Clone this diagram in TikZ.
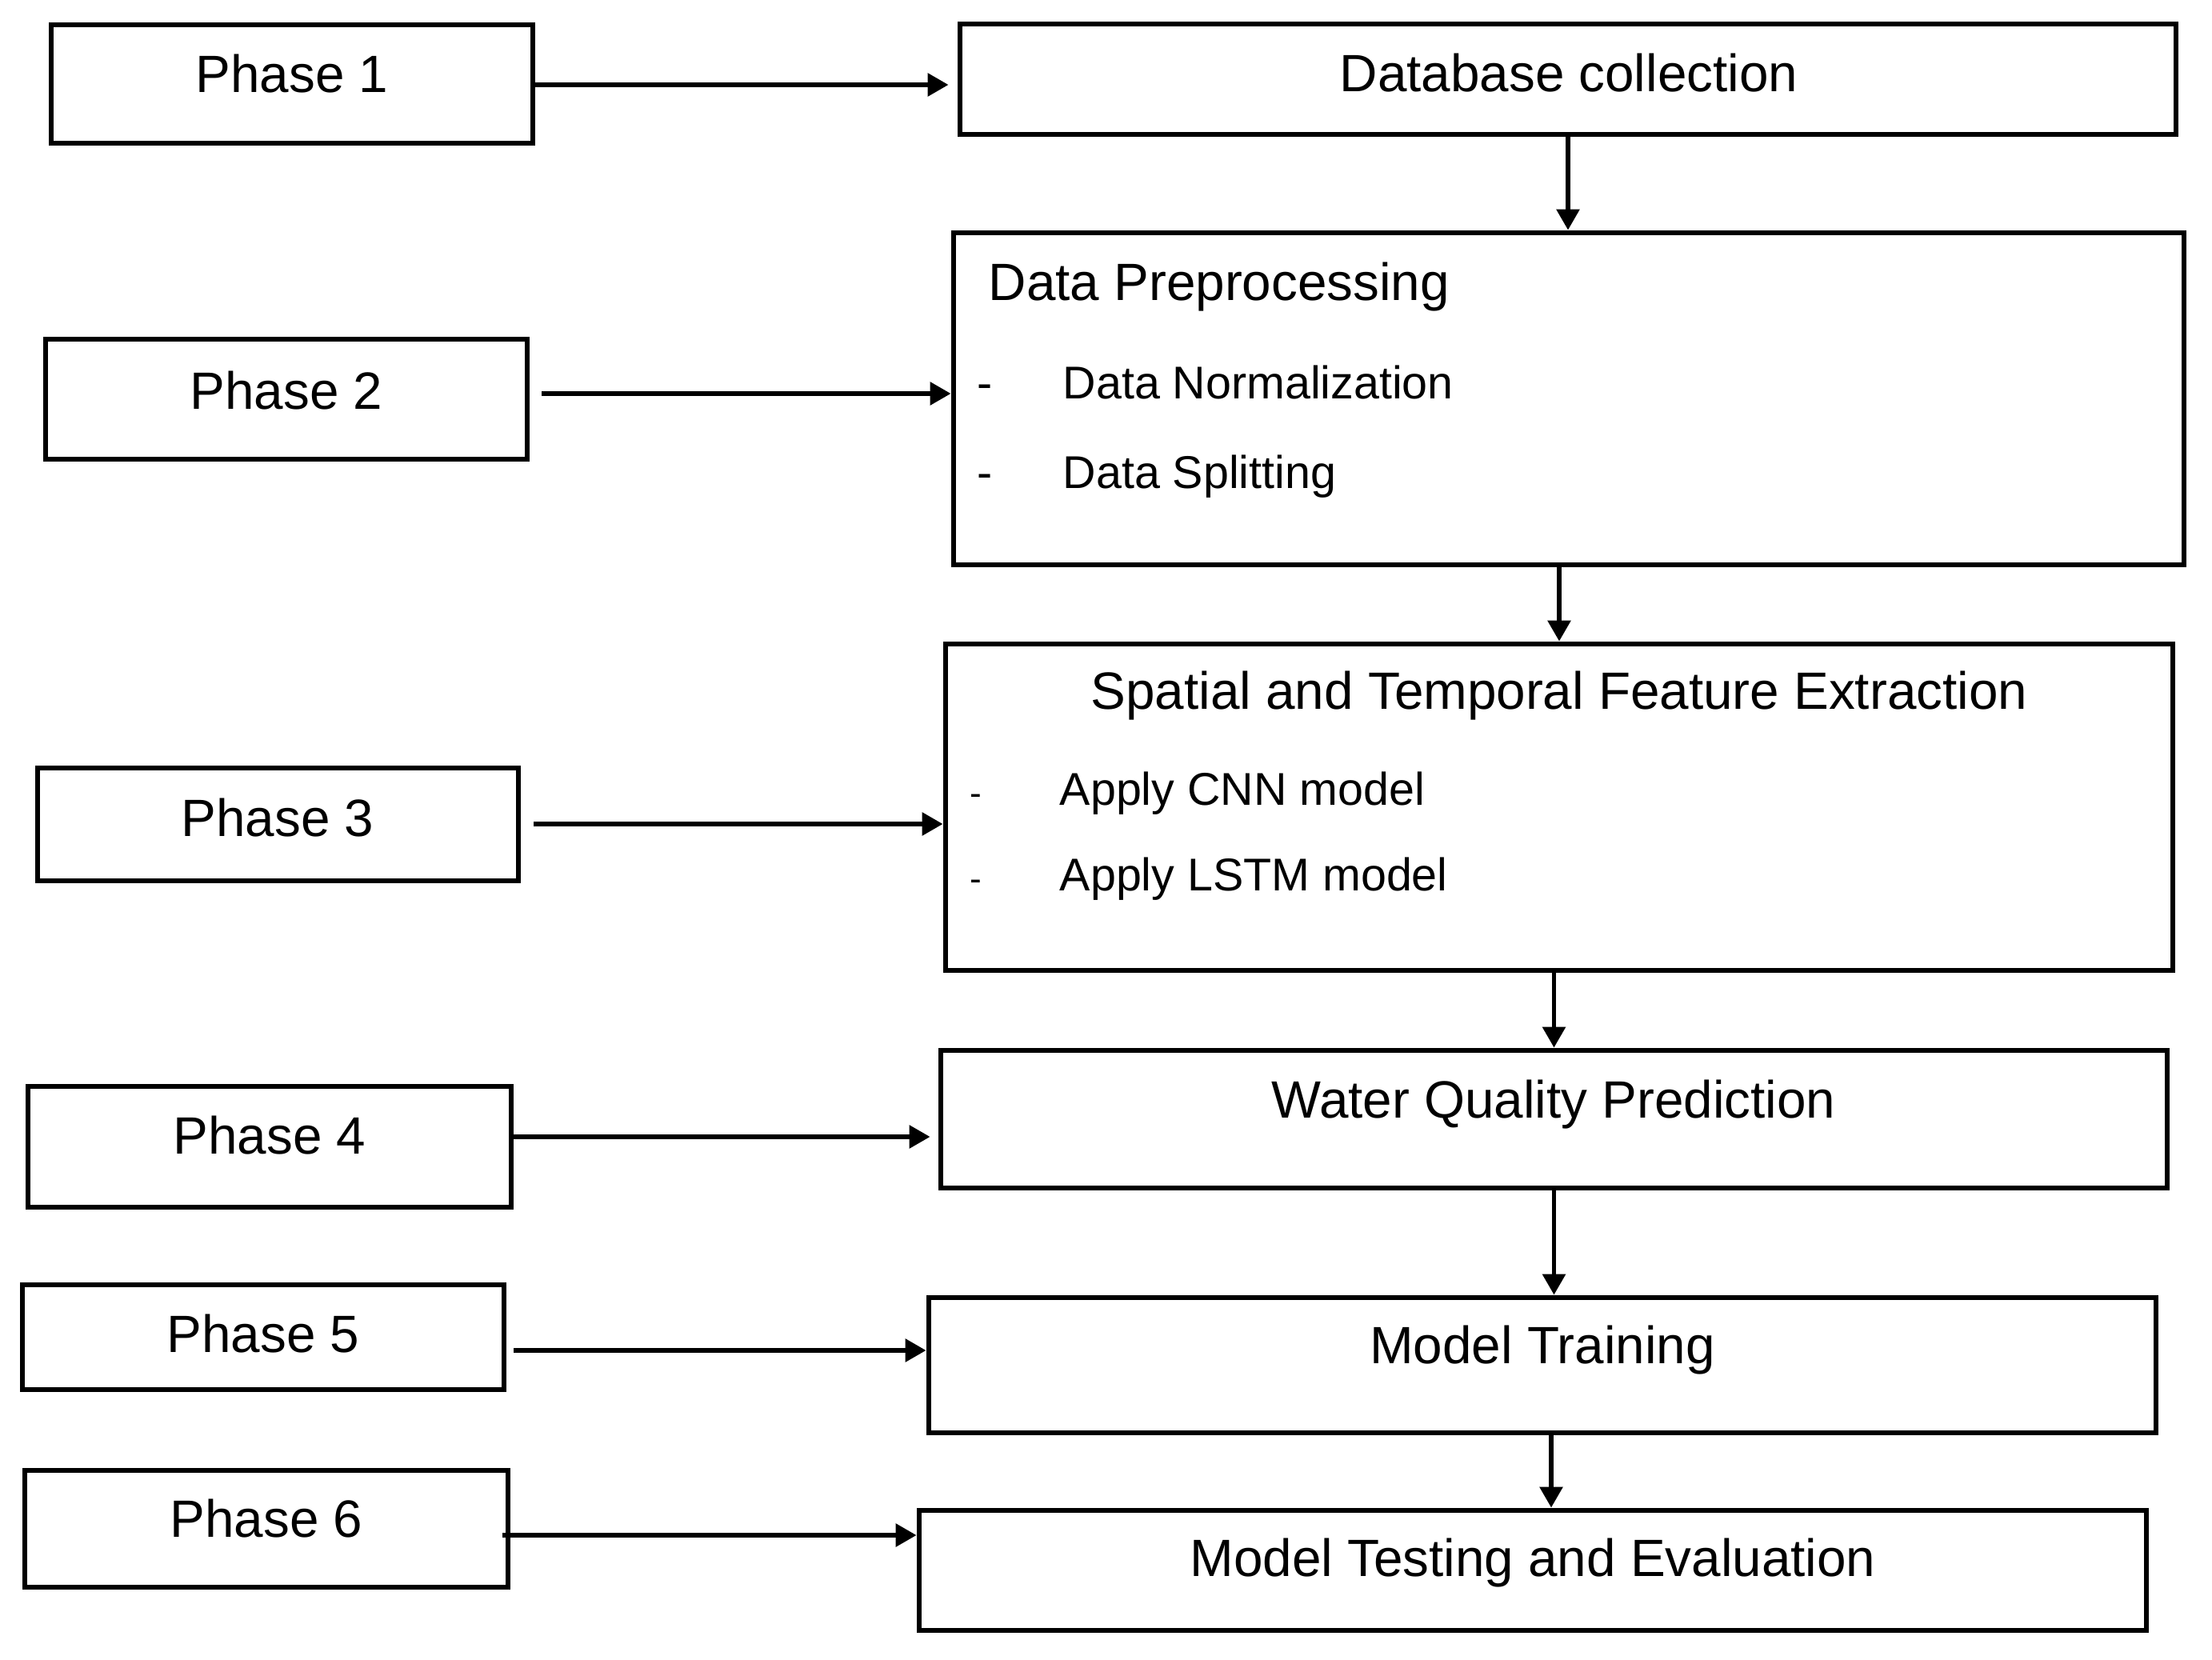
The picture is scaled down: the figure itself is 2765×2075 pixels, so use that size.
\documentclass[tikz,border=0pt]{standalone}
\usepackage{fontspec}
\setmainfont{Liberation Sans}
\usetikzlibrary{arrows.meta,fit}
\begin{document}
\begin{tikzpicture}[x=0.25pt,y=-0.25pt,
  box/.style={draw=black,line width=1.7pt,inner sep=0pt,fill=none},
  arr/.style={draw=black,line width=1.45pt,-{Triangle[length=6.5pt,width=7pt]}},
  big/.style={inner sep=0pt,font=\fontsize{16.4}{19}\selectfont},
  small/.style={inner sep=0pt,font=\fontsize{14.35}{17}\selectfont},
  tiny/.style={inner sep=0pt,font=\fontsize{11}{13}\selectfont}]
\useasboundingbox (0,0) rectangle (2765,2075);
% boxes
\node[box,fit={(64,31) (666,179)}] (p1) {};
\node[box,fit={(1200,30) (2720,168)}] (db) {};
\node[box,fit={(57,424) (659,574)}] (p2) {};
\node[box,fit={(1192,291) (2730,706)}] (dp) {};
\node[box,fit={(47,960) (648,1101)}] (p3) {};
\node[box,fit={(1182,805) (2716,1213)}] (sp) {};
\node[box,fit={(35,1358) (639,1509)}] (p4) {};
\node[box,fit={(1176,1313) (2709,1485)}] (wq) {};
\node[box,fit={(28,1606) (630,1737)}] (p5) {};
\node[box,fit={(1161,1622) (2695,1791)}] (mt) {};
\node[box,fit={(31,1838) (635,1984)}] (p6) {};
\node[box,fit={(1149,1888) (2683,2038)}] (mte) {};
% texts
\node[big,anchor=base] (t1) at (365,116) {Phase 1};
\node[big,anchor=base] (t2) at (358,512) {Phase 2};
\node[big,anchor=base] (t3) at (347,1045) {Phase 3};
\node[big,anchor=base] (t4) at (337,1442) {Phase 4};
\node[big,anchor=base] (t5) at (329,1690) {Phase 5};
\node[big,anchor=base] (t6) at (333,1921) {Phase 6};
\node[big,anchor=base] (tdb) at (1961,115) {Database collection};
\node[big,anchor=base west] (tdp) at (1235,376) {Data Preprocessing};
\node[small,anchor=base west] (d1) at (1221,499) {-};
\node[small,anchor=base west] (i1) at (1328,499) {Data Normalization};
\node[small,anchor=base west] (d2) at (1221,611) {-};
\node[small,anchor=base west] (i2) at (1328,611) {Data Splitting};
\node[big,anchor=base] (tsp) at (1949,887) {Spatial and Temporal Feature Extraction};
\node[tiny,anchor=base west] (d3) at (1212,1006) {-};
\node[small,anchor=base west] (i3) at (1324,1006) {Apply CNN model};
\node[tiny,anchor=base west] (d4) at (1212,1113) {-};
\node[small,anchor=base west] (i4) at (1324,1113) {Apply LSTM model};
\node[big,anchor=base] (twq) at (1942,1397) {Water Quality Prediction};
\node[big,anchor=base] (tmt) at (1928,1704) {Model Training};
\node[big,anchor=base] (tmte) at (1916,1970) {Model Testing and Evaluation};
% arrow rows
\coordinate (y1) at (0,106);
\coordinate (y2) at (0,492);
\coordinate (y3) at (0,1030);
\coordinate (y4) at (0,1421);
\coordinate (y5) at (0,1688);
\coordinate (y6) at (0,1919);
\coordinate (x5) at (1939,0);
% horizontal arrows
\draw[arr,shorten >=2.75pt] (p1.east |- y1) -- (db.west |- y1);
\draw[arr,shorten <=3.75pt] (p2.east |- y2) -- (dp.west |- y2);
\draw[arr,shorten <=4pt] (p3.east |- y3) -- (sp.west |- y3);
\draw[arr,shorten >=2.5pt] (p4.east |- y4) -- (wq.west |- y4);
\draw[arr,shorten <=2.25pt] (p5.east |- y5) -- (mt.west |- y5);
\draw[arr,shorten <=-2.5pt] (p6.east |- y6) -- (mte.west |- y6);
% vertical arrows
\draw[arr] (db.south) -- (db.south |- dp.north);
\draw[arr] (sp.north |- dp.south) -- (sp.north);
\draw[arr] (wq.north |- sp.south) -- (wq.north);
\draw[arr] (wq.south) -- (wq.south |- mt.north);
\draw[arr] (mt.south -| x5) -- (mte.north -| x5);
\end{tikzpicture}
\end{document}
